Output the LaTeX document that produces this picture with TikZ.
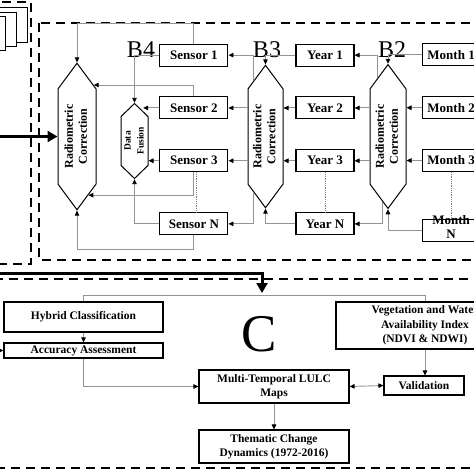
\documentclass[tikz,border=0pt]{standalone}
\usepackage{fontspec}
\setmainfont{Liberation Serif}
\usepackage{graphicx}
\usetikzlibrary{matrix,shapes.symbols,arrows.meta}

\newcommand{\sidetext}[1]{\rotatebox{90}{\begin{tabular}{@{}c@{}}#1\end{tabular}}}

\tikzset{
  box/.style={draw, line width=1.1pt, fill=white, inner sep=0pt, font=\bfseries\fontsize{13}{14}\selectfont},
  lowbox/.style={draw, line width=1.1pt, fill=white, inner sep=0pt, align=center, font=\bfseries\fontsize{11.5}{13.5}\selectfont},
  hexa/.style={signal, signal to=north and south, signal pointer angle=73, draw, line width=1pt, fill=white, inner sep=0pt, font=\bfseries\fontsize{12}{14}\selectfont},
  conn/.style={draw=gray!85, line width=0.9pt, -{Triangle[color=black, length=5pt, width=4.5pt]}},
  wire/.style={draw=gray!85, line width=0.9pt},
  dots/.style={draw=gray, densely dotted, line width=0.8pt},
  fat/.style={line width=3pt, -{Triangle[length=10pt, width=11pt]}},
  panel/.style={line width=2.8pt, dash pattern=on 9pt off 6pt},
  biglabel/.style={inner sep=0pt, font=\fontsize{24}{24}\selectfont}
}

\begin{document}
\begin{tikzpicture}[x=1pt, y=-1pt]
  \useasboundingbox (0,0) rectangle (474,474);
  \clip (0,0) rectangle (474,474);

  % panels
  \draw[fill=white, line width=1pt] (-10,7) rectangle (27,42);
  \draw[fill=white, line width=1pt] (-10,12) rectangle (16,46);
  \draw[fill=white, line width=1pt] (-10,16) rectangle (5,50);
  \draw[panel] (-10,2) rectangle (31,264);
  \draw[panel] (39,23) rectangle (490,260);
  \draw[panel] (-10,279) rectangle (490,468);

  % inputs B4 / B3 / B2
  \matrix (m) [matrix of nodes, row sep=29.5pt, column sep=67pt,
    nodes={box, minimum width=58pt, minimum height=22pt},
    column 1/.style={nodes={minimum width=68pt}}] at (320,142.5)
  {
    Sensor 1 & Year 1 & Month 1 \\
    Sensor 2 & Year 2 & Month 2 \\
    Sensor 3 & Year 3 & Month 3 \\[10.5pt]
    Sensor N & Year N & \raisebox{-4pt}{\smash{\begin{tabular}{@{}c@{}}Month\\N\end{tabular}}} \\
  };

  \node[hexa, minimum width=38pt, minimum height=133pt] (rc4) at (77,136.5) {\sidetext{Radiometric\\Correction}};
  \node[hexa, minimum width=27pt, minimum height=74pt, signal pointer angle=92,
    font=\bfseries\fontsize{9.5}{13}\selectfont] (df) at (134.5,141) {\sidetext{Data\\Fusion}};
  \node[hexa, minimum width=35pt, minimum height=133pt] (rc3) at (265.5,136.5) {\sidetext{Radiometric\\Correction}};
  \node[hexa, minimum width=36pt, minimum height=133pt] (rc2) at (388,136.5) {\sidetext{Radiometric\\Correction}};

  \node[biglabel] (b4) at (141,50) {B4};
  \node[biglabel] (b3) at (267,50) {B3};
  \node[biglabel] (b2) at (392,50) {B2};

  % sensors to B4
  \draw[conn] (m-1-1.north) -- ++(0,-20) -| (rc4.north);
  \draw[conn] (m-1-1.west) -| (df.north);
  \draw[conn] (m-2-1.north) |- (rc4.72);
  \draw[conn] (m-2-1.west) -- (m-2-1.west -| df.74);
  \draw[conn] (m-3-1.west) -- (m-3-1.west -| df.east);
  \draw[conn] (m-3-1.south) |- (rc4.281);
  \draw[conn] (m-4-1.west) -| (df.south);
  \draw[conn] (m-4-1.south) -- ++(0,14) -| (rc4.south);
  \draw[dots] ([xshift=2pt]m-3-1.south) -- ([xshift=2pt]m-4-1.north);

  % B3 to sensors, years to B3
  \draw[conn] (rc3.102) |- (m-1-1.east);
  \draw[conn] (m-2-1.east -| rc3.west) -- (m-2-1.east);
  \draw[conn] (m-3-1.east -| rc3.west) -- (m-3-1.east);
  \draw[conn] (rc3.258) |- (m-4-1.east);
  \draw[conn] (m-1-2.west) -| (rc3.north);
  \draw[conn] (m-2-2.west) -- (m-2-2.west -| rc3.east);
  \draw[conn] (m-3-2.west) -- (m-3-2.west -| rc3.east);
  \draw[conn] (m-4-2.west) -| (rc3.south);
  \draw[dots] (m-3-2.south) -- (m-4-2.north);

  % B2 to years, months to B2
  \draw[conn] (rc2.100) |- (m-1-2.east);
  \draw[conn] (m-2-2.east -| rc2.west) -- (m-2-2.east);
  \draw[conn] (m-3-2.east -| rc2.west) -- (m-3-2.east);
  \draw[conn] (rc2.265) |- (m-4-2.east);
  \draw[conn] (m-1-3.west) -| (rc2.north);
  \draw[conn] (m-2-3.west) -- (m-2-3.west -| rc2.east);
  \draw[conn] (m-3-3.west) -- (m-3-3.west -| rc2.east);
  \draw[conn] (m-4-3.west) -| (rc2.south);
  \draw[dots] (m-3-3.south) -- (m-4-3.north);

  % C
  \node[inner sep=0pt, font=\fontsize{53}{53}\selectfont] (c) at (259,334.5) {C};
  \node[lowbox, minimum width=159pt, minimum height=30pt] (hc) at (83.5,317) {Hybrid Classification};
  \node[lowbox, minimum width=159pt, minimum height=15pt] (aa) at (83.5,350.5) {Accuracy Assessment};
  \node[lowbox, minimum width=150pt, minimum height=33pt] (mt) at (274,386.5) {Multi-Temporal LULC\\Maps};
  \node[lowbox, minimum width=150pt, minimum height=33pt] (tc) at (274,446.5) {Thematic Change\\Dynamics (1972-2016)};
  \node[lowbox, minimum width=178pt, minimum height=47pt, font=\bfseries\fontsize{11.5}{14.5}\selectfont] (vi) at (425,325.5) {Vegetation and Water\\Availability Index\\(NDVI \& NDWI)};
  \node[lowbox, minimum width=80pt, minimum height=19pt] (va) at (424,385.5) {Validation};

  \coordinate (aain) at (-6,350.5);
  \draw[wire] (hc.north) -- ++(0,-6) -| (vi.north);
  \draw[conn] (hc.south) -- (aa.north);
  \draw[conn] (aain) -- (aa.west);
  \draw[conn] (aa.south) |- (mt.west);
  \draw[conn] (mt.south) -- (tc.north);
  \draw[conn, {Triangle[color=black, length=5pt, width=4.5pt]}-{Triangle[color=black, length=5pt, width=4.5pt]}] (mt.east) -- (va.west);
  \draw[conn] (vi.south) -- (vi.south |- va.north);

  % flow between panels
  \coordinate (ain) at (-6,136.5);
  \coordinate (bout) at (-6,273);
  \coordinate (cin) at (262,293);
  \draw[fat] (ain) -- (rc4.west);
  \draw[fat] (bout) -| (cin);
\end{tikzpicture}
\end{document}
